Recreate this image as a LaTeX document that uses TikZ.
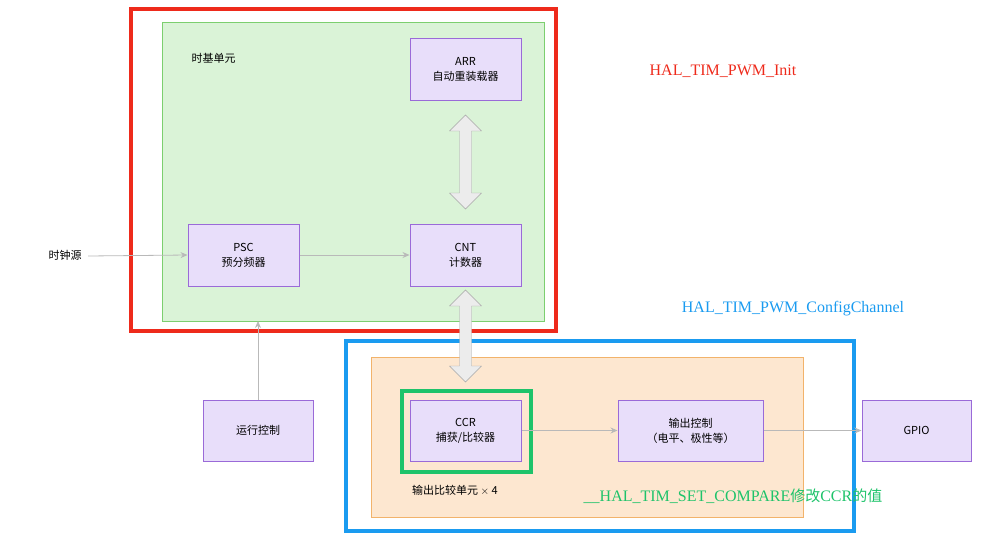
\documentclass[tikz,border=0pt]{standalone}
\usepackage{fontspec}
\usetikzlibrary{shapes.arrows,arrows.meta}
\setmainfont{Noto Sans CJK SC}
\newfontfamily\serifL{Liberation Serif}
\newfontfamily\cjk{Noto Sans CJK SC}
\definecolor{boxfill}{HTML}{E8DEFA}
\definecolor{boxline}{HTML}{9A6AD8}
\definecolor{greenfill}{HTML}{DAF3D7}
\definecolor{greenline}{HTML}{7CCF6F}
\definecolor{orfill}{HTML}{FDE7D0}
\definecolor{orline}{HTML}{F2B36B}
\definecolor{redc}{HTML}{EE2A1B}
\definecolor{bluec}{HTML}{1A9BF0}
\definecolor{greenc}{HTML}{1EC36A}
\begin{document}
\begin{tikzpicture}[x=1pt,y=-1pt,
  blk/.style={draw=boxline,fill=boxfill,line width=1pt,align=center,font=\fontsize{11}{15}\selectfont,inner sep=0pt},
  conn/.style={draw=gray!55,line width=0.8pt,-{Stealth[length=7pt,width=6pt]}},
  dbl/.style={double arrow,draw=gray!70,fill=gray!15,minimum width=32pt,double arrow head extend=7pt,inner sep=4pt,rotate=90,double arrow tip angle=90}]
\useasboundingbox (0,0) rectangle (992,536);
% regions
\draw[greenline,fill=greenfill,line width=1pt] (162,22) rectangle (544,321);
\draw[orline,fill=orfill,line width=1pt] (371,357) rectangle (803,517);
\draw[redc,line width=3.5pt] (131,9) rectangle (556,331);
\draw[bluec,line width=3.5pt] (346,341) rectangle (854,531);
\node[font=\fontsize{11}{13}\selectfont,anchor=west] (tb) at (188,58) {时基单元};
% boxes
\node[blk,minimum width=111pt,minimum height=62pt] (arr) at (465.5,69) {ARR\\自动重装载器};
\node[blk,minimum width=111pt,minimum height=62pt] (cnt) at (465.5,255) {CNT\\计数器};
\node[blk,minimum width=111pt,minimum height=62pt] (psc) at (243.5,255) {PSC\\预分频器};
\node[blk,minimum width=111pt,minimum height=61pt] (ccr) at (465.5,430.5) {CCR\\捕获/比较器};
\draw[greenc,line width=3.5pt] (402,391) rectangle (531,472);
\node[blk,minimum width=145pt,minimum height=61pt] (out) at (690.5,430.5) {输出控制\\（电平、极性等）};
\node[blk,minimum width=109pt,minimum height=61pt] (gpio) at (916.5,430.5) {GPIO};
\node[blk,minimum width=110pt,minimum height=61pt] (run) at (258,430.5) {运行控制};
\node[font=\fontsize{11}{13}\selectfont] (clk) at (65,255) {时钟源};
\coordinate (gbot) at (258,321);
\node[font=\fontsize{11}{13}\selectfont] (oc) at (455,490) {输出比较单元 $\times$ 4};
% connectors
\draw[conn] (clk.east) ++(3,1) coordinate (c0) (c0) -- (psc.west);
\draw[conn] (psc) -- (cnt);
\draw[conn] (run) -- (gbot);
\draw[conn] (ccr.east) -- (out.west);
\draw[conn] (out) -- (gpio);
\node[dbl,minimum height=94pt] (d1) at (465.5,162) {};
\node[dbl,minimum height=92pt] (d2) at (465.5,336) {};
% labels
\node[redc,font=\serifL\fontsize{16}{18}\selectfont] (l1) at (723,71) {HAL\_TIM\_PWM\_Init};
\node[bluec,font=\serifL\fontsize{16}{18}\selectfont] (l2) at (793,309) {HAL\_TIM\_PWM\_ConfigChannel};
\node[greenc,font=\serifL\fontsize{16}{18}\selectfont] (l3) at (733,496) {\_\_HAL\_TIM\_SET\_COMPARE{\cjk\fontsize{15}{18}\selectfont 修改}CCR{\cjk\fontsize{15}{18}\selectfont 的值}};
\end{tikzpicture}
\end{document}
